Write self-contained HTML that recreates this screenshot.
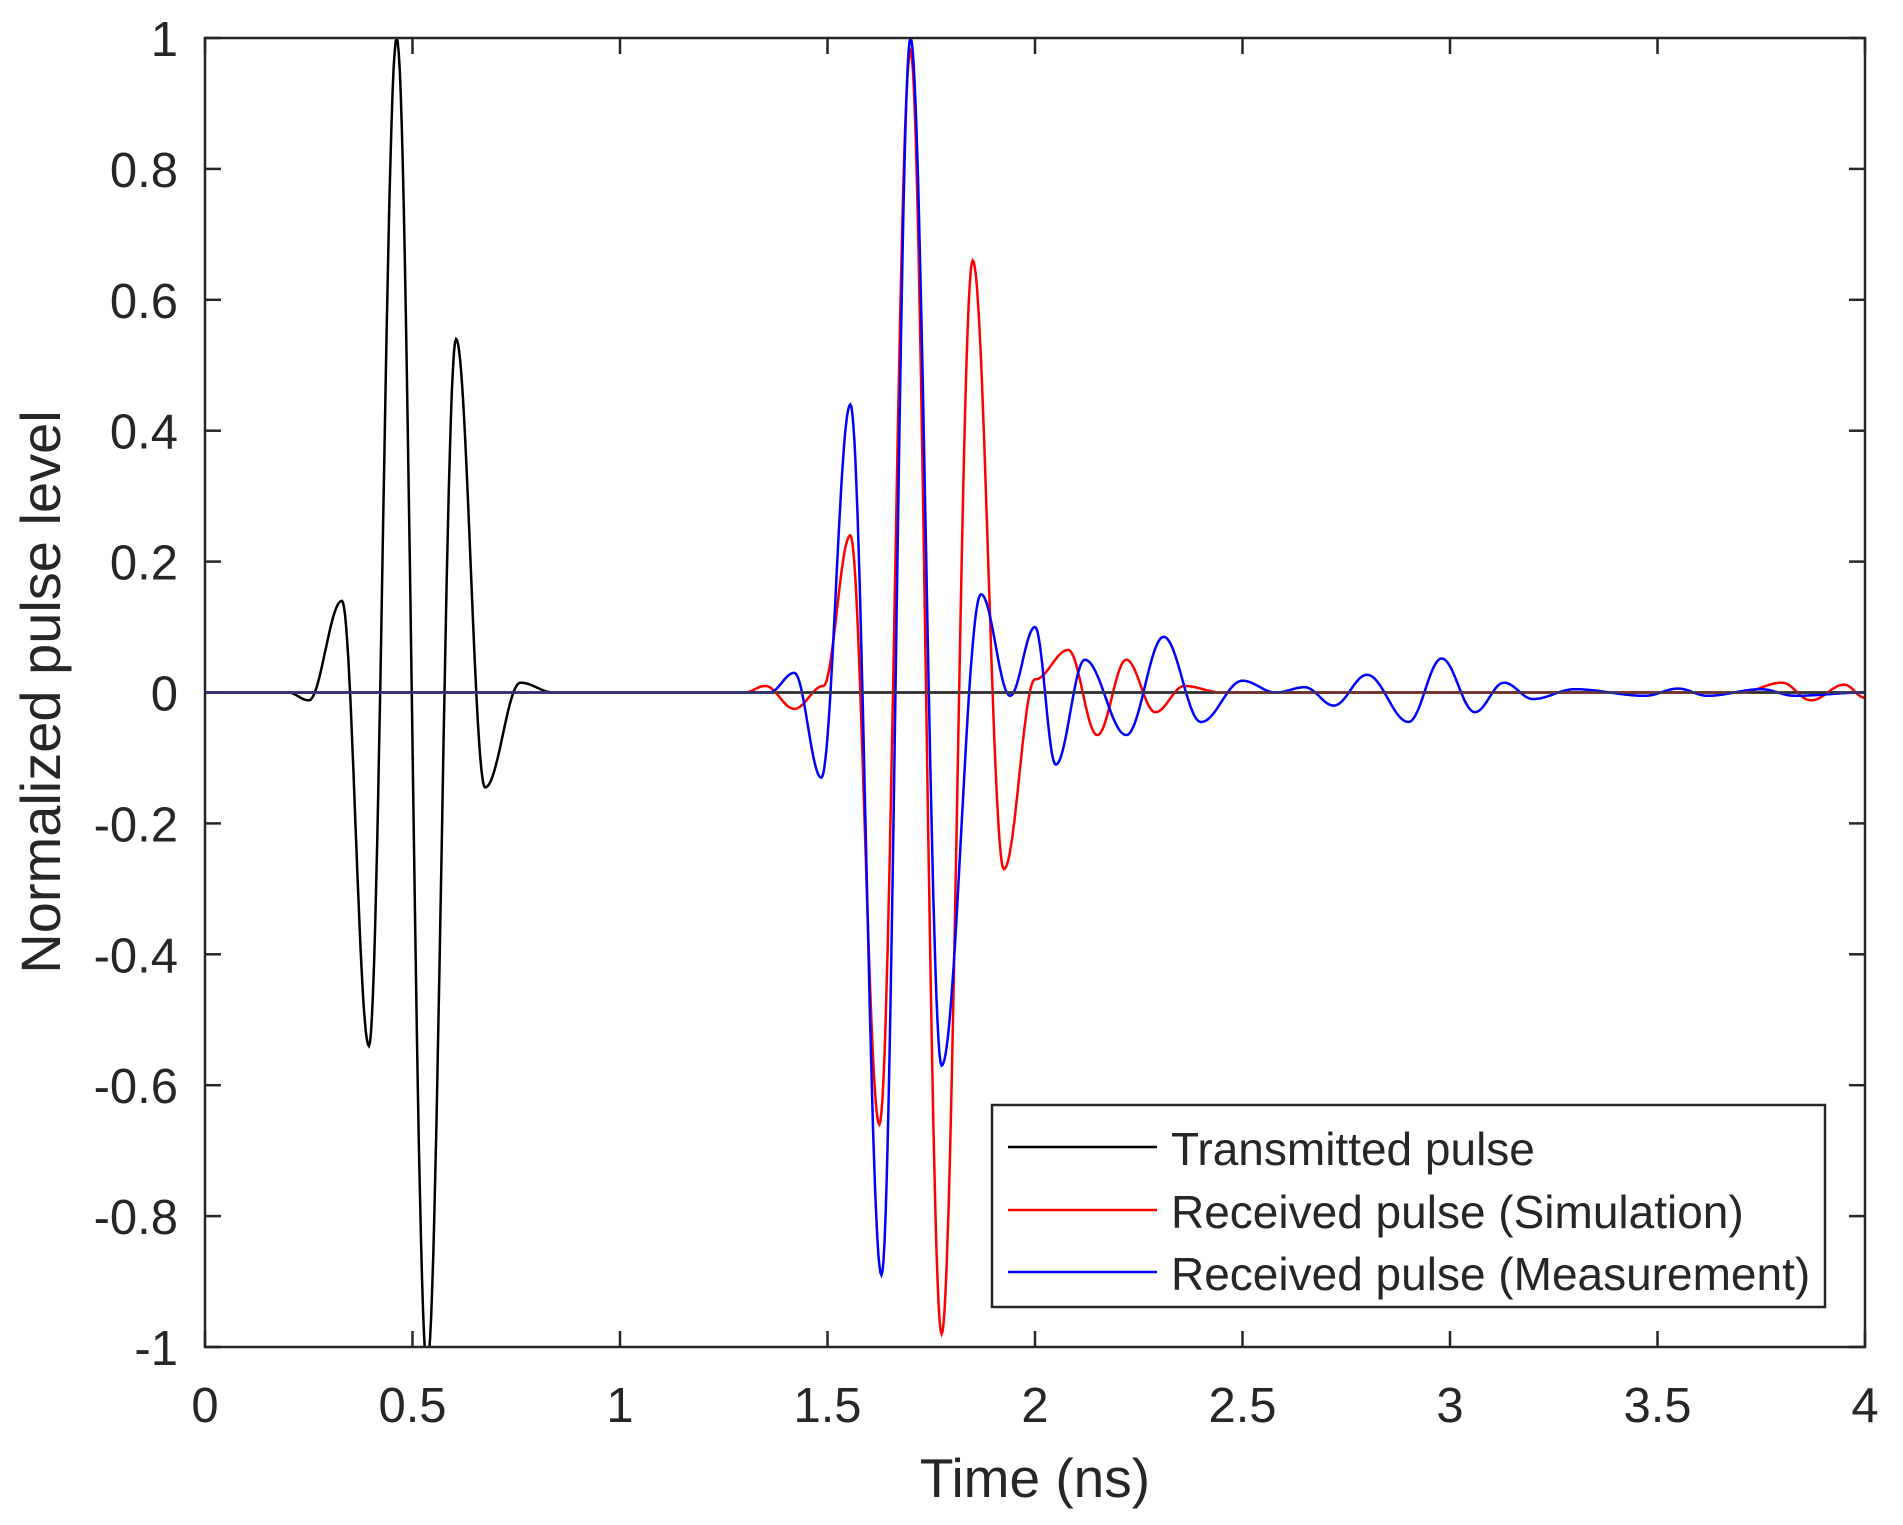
<!DOCTYPE html>
<html><head><meta charset="utf-8"><style>
html,body{margin:0;padding:0;background:#fff}
svg{display:block}
text{font-family:"Liberation Sans",Arial,sans-serif;fill:#262626}
</style></head><body>
<svg id="s" width="1903" height="1525" viewBox="0 0 1903 1525" xmlns="http://www.w3.org/2000/svg">
<defs><clipPath id="c"><rect x="205" y="38" width="1660" height="1309"/></clipPath></defs>
<rect x="0" y="0" width="1903" height="1525" fill="#fff"/>
<g id="ticks" stroke="#262626" stroke-width="2.5"></g>
<g id="curves" clip-path="url(#c)" fill="none" stroke-width="2.5"></g>
<rect x="205" y="38" width="1660" height="1309" fill="none" stroke="#262626" stroke-width="2.5"/>
<g id="labels" font-size="49"></g>
<text x="1035" y="1497" font-size="55" text-anchor="middle">Time (ns)</text>
<text transform="translate(60,692) rotate(-90)" font-size="56" text-anchor="middle">Normalized pulse level</text>
<rect x="992" y="1105" width="833" height="202" fill="#fff" stroke="#262626" stroke-width="2.5"/>
<line x1="1008" y1="1147" x2="1157" y2="1147" stroke="#000" stroke-width="2.4"/>
<line x1="1008" y1="1210" x2="1157" y2="1210" stroke="#f00" stroke-width="2.4"/>
<line x1="1008" y1="1272" x2="1157" y2="1272" stroke="#00f" stroke-width="2.4"/>
<text x="1171" y="1165" font-size="46">Transmitted pulse</text>
<text x="1171" y="1228" font-size="46">Received pulse (Simulation)</text>
<text x="1171" y="1290" font-size="46">Received pulse (Measurement)</text>
</svg>
<script>
var X=function(t){return 205+415*t},Y=function(v){return 692.5-654.5*v};
var NS="http://www.w3.org/2000/svg";
function el(p,n,a,txt){var e=document.createElementNS(NS,n);for(var k in a)e.setAttribute(k,a[k]);if(txt!=null)e.textContent=txt;p.appendChild(e);return e}
var tk=document.getElementById('ticks'),lb=document.getElementById('labels');
for(var i=0;i<=8;i++){var t=i*0.5,x=X(t);
 el(tk,'line',{x1:x,y1:1347,x2:x,y2:1331});el(tk,'line',{x1:x,y1:38,x2:x,y2:54});
 el(lb,'text',{x:x,y:1422,'text-anchor':'middle'},String(t));}
for(var i=0;i<=10;i++){var v=-1+i*0.2,y=Y(v);
 el(tk,'line',{x1:205,y1:y,x2:221,y2:y});el(tk,'line',{x1:1865,y1:y,x2:1849,y2:y});
 var s=Math.abs(v)<1e-9?'0':(Math.round(v*10)/10).toString();
 el(lb,'text',{x:178,y:y+18,'text-anchor':'end'},s);}
function path(pts){var d='';for(var i=0;i<pts.length-1;i++){var a=pts[i],b=pts[i+1],n=Math.max(2,Math.ceil((b[0]-a[0])*400));
 for(var j=0;j<=n;j++){if(i>0&&j==0)continue;var f=j/n,t=a[0]+(b[0]-a[0])*f,v=a[1]+(b[1]-a[1])*(1-Math.cos(Math.PI*f))/2;
 d+=(d?'L':'M')+X(t).toFixed(1)+' '+Y(v).toFixed(1);}}return d}
var cv=document.getElementById('curves');
var black=[[0,0],[0.2,0],[0.25,-0.012],[0.33,0.14],[0.395,-0.54],[0.462,1.0],[0.535,-1.03],[0.605,0.54],[0.675,-0.145],[0.76,0.015],[0.84,0],[4,0]];
var red=[[0,0],[1.3,0],[1.35,0.01],[1.42,-0.025],[1.49,0.01],[1.555,0.24],[1.625,-0.66],[1.7,0.98],[1.775,-0.98],[1.85,0.66],[1.925,-0.27],[2.0,0.02],[2.08,0.065],[2.15,-0.065],[2.22,0.05],[2.29,-0.03],[2.36,0.01],[2.45,0],[3.7,0],[3.8,0.015],[3.87,-0.012],[3.95,0.012],[4,-0.008]];
var blue=[[0,0],[1.3,0],[1.36,0.0],[1.42,0.03],[1.485,-0.13],[1.555,0.44],[1.63,-0.89],[1.7,1.0],[1.775,-0.57],[1.87,0.15],[1.94,-0.005],[2.0,0.1],[2.05,-0.11],[2.12,0.05],[2.22,-0.065],[2.31,0.085],[2.4,-0.045],[2.5,0.018],[2.58,0.0],[2.65,0.008],[2.72,-0.02],[2.8,0.027],[2.9,-0.045],[2.98,0.052],[3.06,-0.03],[3.13,0.015],[3.2,-0.01],[3.3,0.005],[3.47,-0.005],[3.55,0.006],[3.62,-0.005],[3.75,0.005],[3.83,-0.005],[4,0]];
el(cv,'path',{d:path(black),stroke:'#000'});
el(cv,'path',{d:path(red),stroke:'#f00'});
el(cv,'path',{d:path(blue),stroke:'#00f'});
el(cv,'line',{x1:205,y1:Y(0),x2:1865,y2:Y(0),stroke:'#444','stroke-width':3,'stroke-opacity':0.7});
</script>
</body></html>
